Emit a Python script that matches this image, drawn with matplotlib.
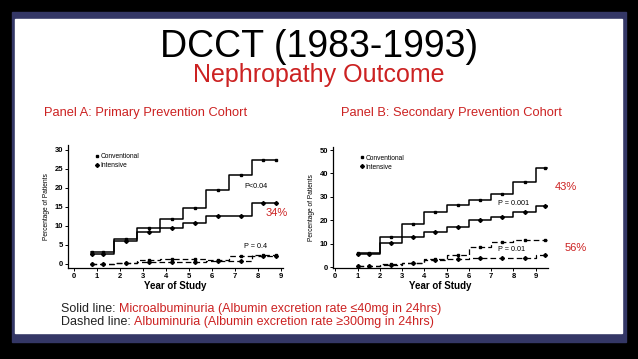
import numpy as np
import matplotlib.pyplot as plt
from matplotlib.patches import Rectangle
from matplotlib.lines import Line2D

plt.rcParams["font.family"] = ["Liberation Sans", "DejaVu Sans"]

RED = "#cc2222"

# Panel A: primary prevention (steps start at 0.75, change every year)
a_edges = [0.75, 1.75, 2.75, 3.75, 4.75, 5.75, 6.75, 7.75, 8.8]
a_conv_micro = [3.2, 6.6, 9.5, 11.7, 14.7, 19.5, 23.5, 27.3]
a_int_micro = [2.7, 5.9, 8.3, 9.5, 10.7, 12.5, 12.5, 16.0]
a_conv_alb = [0.0, 0.3, 1.0, 1.2, 1.2, 1.0, 2.2, 2.4]
a_int_alb = [0.0, 0.2, 0.4, 0.4, 0.5, 0.7, 0.8, 2.1]
a_marks = [0.8, 1.25, 2.25, 3.25, 4.25, 5.25, 6.25, 7.25, 8.25, 8.8]

# Panel B: secondary prevention (steps at whole years)
b_edges = [1, 2, 3, 4, 5, 6, 7, 8, 9, 9.5]
b_conv_micro = [6.0, 13.0, 18.3, 23.5, 26.5, 28.7, 31.0, 36.4, 42.3]
b_int_micro = [5.5, 10.3, 13.0, 15.0, 17.3, 20.0, 21.3, 23.5, 26.2]
b_conv_alb = [0.5, 1.2, 1.8, 3.5, 5.3, 8.5, 10.5, 11.5, 11.5]
b_int_alb = [0.3, 1.0, 1.8, 3.2, 3.3, 3.7, 3.8, 3.8, 5.0]
b_marks = [1.0, 1.5, 2.5, 3.5, 4.5, 5.5, 6.5, 7.5, 8.5, 9.4]


def step_at(edges, vals, xs):
    idx = np.searchsorted(edges, xs, side="right") - 1
    idx = np.clip(idx, 0, len(vals) - 1)
    return np.array(vals)[idx]


def draw_series(ax, edges, vals, marks, marker, ls):
    ax.step(edges, list(vals) + [vals[-1]], where="post", color="black",
            lw=1.1 if ls == "-" else 0.9, linestyle=ls,
            dashes=(4.5, 2.5) if ls == "--" else (None, None))
    ax.plot(marks, step_at(edges, vals, marks), linestyle="none", marker=marker,
            ms=2.0, color="black")


def style_axes(ax, yticks):
    for s in ["top", "right"]:
        ax.spines[s].set_visible(False)
    ax.spines["left"].set_linewidth(0.9)
    ax.spines["bottom"].set_linewidth(0.9)
    ax.set_xticks(range(10))
    ax.set_yticks(yticks)
    ax.tick_params(labelsize=5.5, length=2, width=0.7, pad=1.5)
    for lab in ax.get_xticklabels() + ax.get_yticklabels():
        lab.set_fontweight("bold")
    ax.set_xlabel("Year of Study", fontsize=7, fontweight="bold", labelpad=1)
    ax.set_ylabel("Percentage of Patients", fontsize=4.8, labelpad=3)
    ax.set_facecolor("none")
    handles = [Line2D([], [], color="black", marker="s", ls="none", ms=2),
               Line2D([], [], color="black", marker="D", ls="none", ms=2)]
    ax.legend(handles, ["Conventional", "Intensive"], loc="upper left",
              bbox_to_anchor=(0.1, 0.97), frameon=False, fontsize=4.8,
              handletextpad=0.2, borderpad=0.2, labelspacing=0.3,
              handlelength=0.8)


fig = plt.figure(figsize=(6.38, 3.59), dpi=100, facecolor="black")
W, H = 638, 359
fig.patches.append(Rectangle((12 / W, 1 - 342 / H), 614 / W, 330 / H,
                             transform=fig.transFigure, color="#343766", zorder=-5))
fig.patches.append(Rectangle((15 / W, 1 - 333 / H), 607 / W, 314 / H,
                             transform=fig.transFigure, color="white", zorder=-4))

fig.text(0.5, 1 - 57 / H, "DCCT (1983-1993)", ha="center", va="baseline",
         fontsize=27, color="black")
fig.text(0.5, 1 - 82 / H, "Nephropathy Outcome", ha="center", va="baseline",
         fontsize=18, color=RED)
fig.text(44 / W, 1 - 113 / H, "Panel A: Primary Prevention Cohort",
         ha="left", va="center", fontsize=9.3, color=RED)
fig.text(341 / W, 1 - 113 / H, "Panel B: Secondary Prevention Cohort",
         ha="left", va="center", fontsize=9.3, color=RED)

# Panel A
axA = fig.add_axes([68 / W, (H - 267.7) / H, 215 / W, 122.7 / H])
draw_series(axA, a_edges, a_conv_micro, a_marks, "s", "-")
draw_series(axA, a_edges, a_int_micro, a_marks, "D", "-")
draw_series(axA, a_edges, a_conv_alb, a_marks, "s", "--")
draw_series(axA, a_edges, a_int_alb, a_marks, "D", "--")
axA.set_xlim(-0.26, 9.1)
axA.set_ylim(-1.0, 31.3)
style_axes(axA, range(0, 31, 5))
axA.text(7.4, 20.3, "P<0.04", fontsize=5.2, va="center")
axA.text(7.4, 4.6, "P = 0.4", fontsize=5.2, va="center")
axA.text(8.35, 13.4, "34%", fontsize=8, color=RED, va="center", clip_on=False)

# Panel B
axB = fig.add_axes([333 / W, (H - 268.2) / H, 215 / W, 121.7 / H])
draw_series(axB, b_edges, b_conv_micro, b_marks, "s", "-")
draw_series(axB, b_edges, b_int_micro, b_marks, "D", "-")
draw_series(axB, b_edges, b_conv_alb, b_marks, "s", "--")
draw_series(axB, b_edges, b_int_alb, b_marks, "D", "--")
axB.set_xlim(-0.1, 9.55)
axB.set_ylim(-0.5, 51.5)
style_axes(axB, range(0, 51, 10))
axB.text(7.3, 27.3, "P = 0.001", fontsize=5.2, va="center")
axB.text(7.3, 7.7, "P = 0.01", fontsize=5.2, va="center")
axB.text(9.85, 34, "43%", fontsize=8, color=RED, va="center", clip_on=False)
axB.text(10.3, 8.2, "56%", fontsize=8, color=RED, va="center", clip_on=False)

# footnote
y1, y2 = 1 - 309 / H, 1 - 322 / H
t = fig.text(61 / W, y1, "Solid line: ", fontsize=9, va="center", color="#222222")
fig.canvas.draw()
bb = t.get_window_extent()
fig.text(bb.x1 / W, y1, "Microalbuminuria (Albumin excretion rate \u226440mg in 24hrs)",
         fontsize=9, va="center", color=RED)
t2 = fig.text(61 / W, y2, "Dashed line: ", fontsize=9, va="center", color="#222222")
fig.canvas.draw()
bb2 = t2.get_window_extent()
fig.text(bb2.x1 / W, y2, "Albuminuria (Albumin excretion rate \u2265300mg in 24hrs)",
         fontsize=9, va="center", color=RED)

fig.savefig("out.png", dpi=100, facecolor=fig.get_facecolor())
